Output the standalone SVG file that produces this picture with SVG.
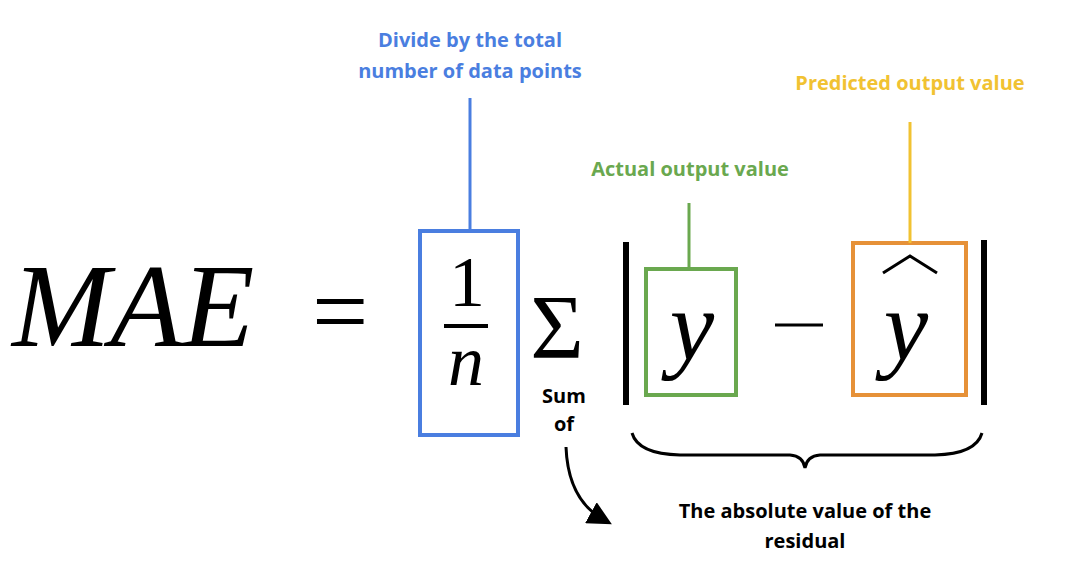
<svg xmlns="http://www.w3.org/2000/svg" width="1066" height="568" viewBox="0 0 1066 568">
<defs>
<style>
.lbl{font-family:"Open Sans","Liberation Sans",sans-serif;font-weight:bold;font-size:20px;text-anchor:middle}
.math{font-family:"Liberation Serif","DejaVu Serif",serif;fill:#000}
.box{fill:none;stroke-width:4}
</style>
<marker id="ah" markerWidth="8" markerHeight="8" refX="5" refY="4" orient="auto" markerUnits="strokeWidth"><path d="M0,0 L8,4 L0,8 Z" fill="#000"/></marker>
</defs>
<rect width="1066" height="568" fill="#fff"/>
<g id="formula">
<text class="math" x="12" y="346" font-size="118" font-style="italic">MAE</text>
<text class="math" x="312" y="345" font-size="100">=</text>
<text class="math" x="467" y="306" font-size="72" text-anchor="middle">1</text>
<line x1="444" y1="326" x2="488" y2="326" stroke="#000" stroke-width="4"/>
<text class="math" x="466" y="385" font-size="72" font-style="italic" text-anchor="middle">n</text>
<text class="math" x="557" y="358" font-size="92" text-anchor="middle">Σ</text>
<line x1="626" y1="242" x2="626" y2="405" stroke="#000" stroke-width="6"/>
<line x1="984" y1="240" x2="984" y2="405" stroke="#000" stroke-width="6"/>
<text class="math" x="692" y="360" font-size="100" font-style="italic" text-anchor="middle">y</text>
<line x1="775" y1="325" x2="823" y2="325" stroke="#000" stroke-width="3"/>
<text class="math" x="906" y="360" font-size="100" font-style="italic" text-anchor="middle">y</text>
<path d="M883,273 L910,256 L937,273" fill="none" stroke="#000" stroke-width="3"/>
</g>
<g id="divide">
<rect class="box" x="420" y="231" width="98" height="204" stroke="#4a7ee0"/>
<text class="lbl" x="470" y="47" fill="#4a7ee0">Divide by the total</text>
<text class="lbl" x="470" y="78" fill="#4a7ee0">number of data points</text>
</g>
<g id="actual">
<rect class="box" x="646" y="269" width="90" height="126" stroke="#6aa84f"/>
<text class="lbl" x="690" y="176" fill="#6aa84f">Actual output value</text>
</g>
<g id="predicted">
<rect class="box" x="853" y="243" width="113" height="152" stroke="#e69138"/>
<text class="lbl" x="910" y="90" fill="#f1c232">Predicted output value</text>
</g>
<g id="sum">
<text class="lbl" x="564" y="403" font-size="18" fill="#000">Sum</text>
<text class="lbl" x="564" y="431" font-size="18" fill="#000">of</text>
</g>
<g id="residual">
<text class="lbl" x="805" y="518" fill="#000">The absolute value of the</text>
<text class="lbl" x="805" y="548" fill="#000">residual</text>
</g>
<g id="connectors" fill="none" stroke-width="3">
<line x1="470" y1="98" x2="470" y2="231" stroke="#4a7ee0"/>
<line x1="689" y1="203" x2="689" y2="269" stroke="#6aa84f"/>
<line x1="910" y1="122" x2="910" y2="243" stroke="#f1c232"/>
<path d="M632,433 Q638,454 680,455 L790,455 Q803,456 805,468 Q807,456 820,455 L935,455 Q976,454 982,433" stroke="#000"/>
<path d="M566,447 Q568,500 604,520" stroke="#000" marker-end="url(#ah)"/>
</g>
</svg>
